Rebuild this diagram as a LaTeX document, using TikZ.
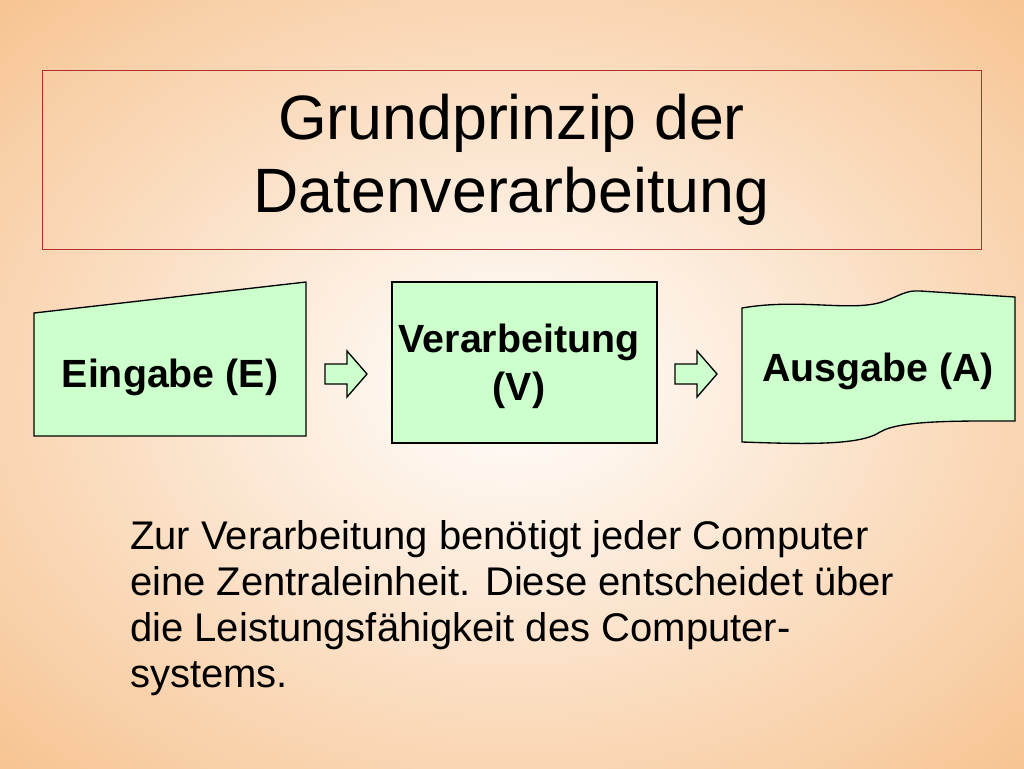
\documentclass[tikz,border=0pt]{standalone}
\usepackage{fontspec}
\setmainfont{Liberation Sans}
\definecolor{peach}{HTML}{F7C594}
\definecolor{boxgreen}{HTML}{CCFFCC}
\definecolor{titleborder}{HTML}{B03030}
\newlength{\px}\setlength{\px}{0.75pt}
\tikzset{
  greenshape/.style={draw=black, fill=boxgreen, line width=1pt},
  boldtxt/.style={font=\fontsize{29.5}{36}\selectfont\bfseries, align=center}
}
\begin{document}
\begin{tikzpicture}[x=0.75pt,y=-0.75pt]
\useasboundingbox (0,0) rectangle (1024,768);
\shade[inner color=white, outer color=peach] (-200,-150) rectangle (1224,918);
\node[draw=titleborder, line width=0.6pt, minimum width=939\px, minimum height=179\px, inner sep=0pt,
  font=\fontsize{47}{55}\selectfont, align=center] (title) at (511.5,160) {Grundprinzip der\\Datenverarbeitung};
\draw[greenshape] (34,313) -- (306,282) -- (306,436) -- (34,436) -- cycle;
\node[boldtxt] (ein) at (170,377) {Eingabe (E)};
\node[greenshape, minimum width=265\px, minimum height=161\px, inner sep=0pt] (ver) at (524.5,362.5) {};
\node[boldtxt] (vtxt) at (519,366) {Verarbeitung\\(V)};
\draw[greenshape] (742,308) .. controls (800,298) and (850,312) .. (882,302) .. controls (900,296) and (905,290) .. (920,291) -- (1015,297)
  -- (1015,421) .. controls (960,421) and (900,420) .. (880,432) .. controls (860,446) and (800,444) .. (742,442) -- cycle;
\node[boldtxt] (aus) at (878,371) {Ausgabe (A)};
\coordinate (a1) at (325,374);
\coordinate (a2) at (675,374);
\foreach \c in {a1,a2}
  \draw[greenshape, shift={(\c)}] (0,-10) -- (22,-10) -- (22,-23) -- (42,0) -- (22,23) -- (22,10) -- (0,10) -- cycle;
\node[anchor=north west, align=left, font=\fontsize{30}{34.5}\selectfont, inner sep=0pt] (para) at (130,520)
 {Zur Verarbeitung benötigt jeder Computer\\eine Zentraleinheit. Diese entscheidet über\\die Leistungsfähigkeit des Computer-\\systems.};
\end{tikzpicture}
\end{document}
